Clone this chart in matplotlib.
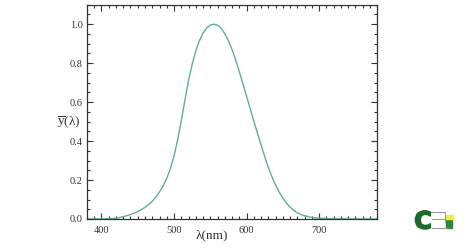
import numpy as np
from matplotlib import pyplot as plt
from matplotlib.patches import Rectangle
from matplotlib.lines import Line2D
from matplotlib.ticker import MultipleLocator
import matplotlib.patheffects as pe

plt.rcParams['font.family'] = ['Liberation Serif', 'DejaVu Serif']
plt.rcParams['mathtext.fontset'] = 'custom'
plt.rcParams['mathtext.rm'] = 'Liberation Serif'
plt.rcParams['mathtext.it'] = 'Liberation Serif'

# CIE 1931 photopic luminosity function, 5 nm steps
wavelength = list(range(380, 785, 5))
ybar = [0.000039, 0.000064, 0.00012, 0.000217, 0.000396, 0.00064, 0.00121, 0.00218,
        0.004, 0.0073, 0.0116, 0.01684, 0.023, 0.0298, 0.038, 0.048,
        0.06, 0.0739, 0.09098, 0.1126, 0.13902, 0.1693, 0.20802, 0.2586,
        0.323, 0.4073, 0.503, 0.6082, 0.71, 0.7932, 0.862, 0.91485,
        0.954, 0.9803, 0.99495, 1.0, 0.995, 0.9786, 0.952, 0.9154,
        0.87, 0.8163, 0.757, 0.6949, 0.631, 0.5668, 0.503, 0.4412,
        0.381, 0.321, 0.265, 0.217, 0.175, 0.1382, 0.107, 0.0816,
        0.061, 0.04458, 0.032, 0.0232, 0.017, 0.01192, 0.00821, 0.005723,
        0.004102, 0.002929, 0.002091, 0.001484, 0.001047, 0.00074, 0.00052, 0.000361,
        0.000249, 0.000172, 0.00012, 0.000085, 0.00006, 0.000042, 0.00003, 0.000021,
        0.000015]

xticks = [400, 500, 600, 700]
yticks = [0.0, 0.2, 0.4, 0.6, 0.8, 1.0]

fig = plt.figure(figsize=(4.74, 2.48), dpi=100)
ax = fig.add_axes([0.1835, 0.117, 0.612, 0.864])

ax.plot(wavelength, ybar, color='#62ab9c', lw=1.0)

ax.set_xlim(380, 780)
ax.set_ylim(0, 1.1)
ax.set_xticks(xticks)
ax.set_yticks(yticks)
ax.set_yticklabels(['%.1f' % v for v in yticks])
ax.xaxis.set_minor_locator(MultipleLocator(10))
ax.yaxis.set_minor_locator(MultipleLocator(0.05))
ax.tick_params(which='both', direction='in', top=True, right=True,
               labelsize=7.5, colors='#333333', width=0.8)
ax.tick_params(which='major', length=4)
ax.tick_params(which='minor', length=2)
ax.tick_params(axis='x', pad=5)
ax.tick_params(axis='y', pad=3)
for s in ax.spines.values():
    s.set_linewidth(0.9)
    s.set_color('#333333')

ax.set_xlabel('λ(nm)', fontsize=9.5, color='#333333', va='center')
ax.xaxis.set_label_coords(0.43, -0.075)
ax.set_ylabel(r'$\overline{\mathrm{y}}\mathrm{(λ)}$', fontsize=9.5, color='#333333',
              rotation=0, va='center', ha='center')
ax.yaxis.set_label_coords(-0.062, 0.453)

# logo
def px(x, y):
    return x / 474, 1 - y / 248

grey = '#9a9a9a'
for xs, ys in [([425, 445, 445], [212, 212, 222]),
               ([432, 445], [219, 219]),
               ([432, 448], [228, 228])]:
    pts = [px(a, b) for a, b in zip(xs, ys)]
    fig.lines.append(Line2D([p[0] for p in pts], [p[1] for p in pts],
                            transform=fig.transFigure, color=grey, lw=0.8))
cx, cy = px(423, 219)
fig.text(cx, cy, 'C', fontsize=17, fontweight='bold',
         family='DejaVu Sans', color='#1d6b2a', ha='center', va='center_baseline',
         path_effects=[pe.withStroke(linewidth=1.3, foreground='#1d6b2a')])
x0, y0 = px(446, 228)
fig.patches.append(Rectangle((x0, y0), 6 / 474, 8 / 248,
                             transform=fig.transFigure, color='#2e8a36'))
x0, y0 = px(446, 218.5)
fig.patches.append(Rectangle((x0, y0), 7 / 474, 4 / 248,
                             transform=fig.transFigure, color='#f0ee3a'))

fig.savefig('out.png', dpi=100)
